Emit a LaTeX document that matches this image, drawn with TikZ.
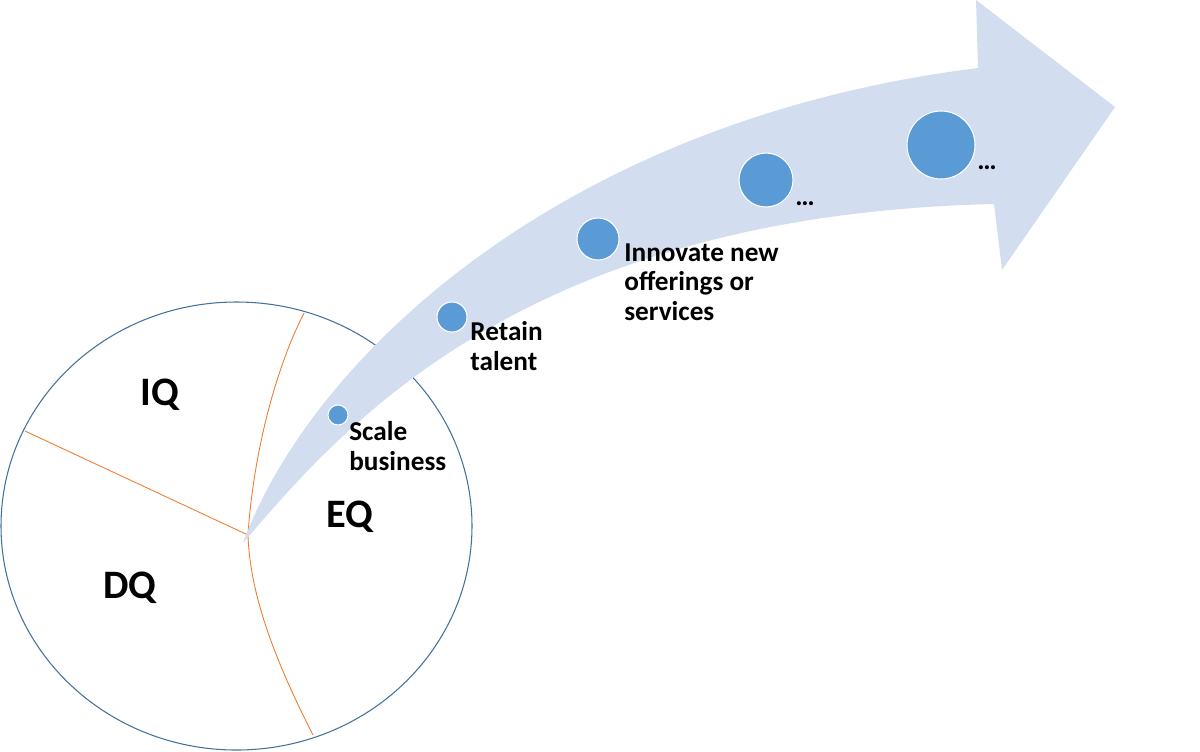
\documentclass[tikz,border=0pt]{standalone}
\usepackage{fontspec}
\setmainfont{Carlito}
\usetikzlibrary{positioning}
\definecolor{ring}{HTML}{41719C}
\definecolor{slice}{HTML}{ED7D31}
\definecolor{band}{HTML}{D2DEEF}
\definecolor{dot}{HTML}{5B9BD5}

\begin{document}
\begin{tikzpicture}[
  x=0.2mm, y=-0.2mm,
  dotnode/.style={circle, fill=dot, draw=white, line width=0.6pt, inner sep=0pt},
  lbl/.style={font=\bfseries\fontsize{15.5}{17}\selectfont, align=left,
              anchor=north west, inner sep=0pt},
  quot/.style={font=\bfseries\fontsize{23}{27}\selectfont}
]
  \useasboundingbox (0,0) rectangle (1200,751);

  % pie of the three quotients
  \draw[ring, line width=0.6pt] (236.5,526) ellipse [x radius=235.5, y radius=224];
  \coordinate (hub) at (248,535);
  \draw[slice, line width=0.5pt] (hub) -- (25,431);
  \draw[slice, line width=0.5pt] (hub) .. controls (252,470) and (270,380) .. (304,313);
  \draw[slice, line width=0.5pt] (hub) .. controls (250,600) and (280,670) .. (313,735);

  \node[quot] (iq) at (160,395) {IQ};
  \node[quot] (dq) at (130,588) {DQ};
  \node[quot] (eq) at (350,517) {EQ};

  % growth arrow
  \fill[band] (243,543) .. controls (310,360) and (560,120) .. (978,68)
    -- (976,0) -- (1115,107) -- (1002,270) -- (994,204)
    .. controls (520,215) and (340,430) .. (243,543) -- cycle;

  % steps along the arrow
  \node[dotnode, minimum size=4mm] (scale) at (338,415) {};
  \node[dotnode, minimum size=6mm] (retain) at (452,317) {};
  \node[dotnode, minimum size=8.4mm] (innovate) at (598,239) {};
  \node[dotnode, minimum size=10.8mm] (more) at (766,180) {};
  \node[dotnode, minimum size=13.6mm] (most) at (941,145) {};

  \node[lbl] (scaletxt) at (349,421) {Scale\\business};
  \node[lbl] (retaintxt) at (470,321) {Retain\\talent};
  \node[lbl] (innovatetxt) at (624,243) {Innovate new\\offerings or\\services};
  \node[lbl, anchor=base west] (moretxt) at (795,205) {…};
  \node[lbl, anchor=base west] (mosttxt) at (977,169) {…};
\end{tikzpicture}
\end{document}
